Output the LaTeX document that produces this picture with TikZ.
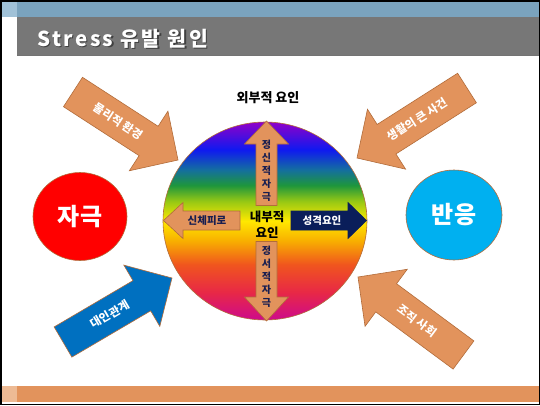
\documentclass[tikz,border=0pt]{standalone}
\usepackage{fontspec}
\setmainfont{Noto Sans CJK KR}
\usetikzlibrary{calc,shapes.geometric}
\definecolor{barblue}{RGB}{122,163,190}
\definecolor{barbluelt}{RGB}{160,193,215}
\definecolor{bargray}{RGB}{119,119,119}
\definecolor{orfill}{RGB}{226,147,92}
\definecolor{orline}{RGB}{178,108,58}
\definecolor{orlt}{RGB}{237,186,148}
\definecolor{arblue}{RGB}{0,112,192}
\definecolor{arnavy}{RGB}{10,30,90}
\definecolor{txnavy}{RGB}{25,30,80}
\definecolor{stimred}{RGB}{255,0,0}
\definecolor{respcyan}{RGB}{0,176,240}
\definecolor{rbmag}{RGB}{205,10,140}
\definecolor{rbred}{RGB}{232,40,70}
\definecolor{rbor}{RGB}{240,85,30}
\definecolor{rbory}{RGB}{248,175,0}
\definecolor{rbyel}{RGB}{255,232,0}
\definecolor{rbyg}{RGB}{150,200,20}
\definecolor{rbgreen}{RGB}{30,150,60}
\definecolor{rbteal}{RGB}{20,110,160}
\definecolor{rbblue}{RGB}{15,25,240}
\definecolor{rbviol}{RGB}{145,0,200}
\pgfdeclareverticalshading{rainbowv}{100bp}{color(0bp)=(rbmag); color(25bp)=(rbmag); color(32bp)=(rbred); color(39bp)=(rbor); color(45bp)=(rbory); color(50bp)=(rbyel); color(55bp)=(rbyg); color(59bp)=(rbgreen); color(63bp)=(rbteal); color(68bp)=(rbblue); color(75bp)=(rbviol); color(100bp)=(rbviol)}
\tikzset{
  orarrow/.style={fill=orfill, draw=orline, line width=0.6pt, line join=miter},
  bluearrow/.style={fill=arblue, draw=orline, line width=0.6pt, line join=miter},
  navyarrow/.style={fill=arnavy, draw=arnavy, line width=0.6pt},
  arlabel/.style={text=white, font=\bfseries\fontsize{11.5}{13}\selectfont, inner sep=0pt},
  inlabel/.style={text=txnavy, font=\bfseries\fontsize{10}{13}\selectfont, inner sep=0pt, align=center},
  bigball/.style={ellipse, inner sep=0pt, draw=orline, line width=0.6pt, text=white, font=\bfseries\fontsize{24}{26}\selectfont}
}
\newcommand{\blockarr}[6]{%
  \coordinate (#1t) at #2;
  \coordinate (#1p) at #3;
  \coordinate (#1h) at ($(#1p)!35pt!(#1t)$);
  \draw[#4] ($(#1t)!17.5pt!90:(#1p)$) -- ($(#1h)!17.5pt!90:(#1p)$) -- ($(#1h)!35.5pt!90:(#1p)$) -- (#1p)
    -- ($(#1h)!35.5pt!-90:(#1p)$) -- ($(#1h)!17.5pt!-90:(#1p)$) -- ($(#1t)!17.5pt!-90:(#1p)$) -- cycle;
  \path (#1t) -- (#1p) node[pos=#6, sloped, arlabel] (#1lab) {#5};
}
\begin{document}
\begin{tikzpicture}[x=1pt,y=-1pt]
\useasboundingbox (0,0) rectangle (540,405);
\fill[white] (0,0) rectangle (540,405);
% header
\fill[barblue] (2,2) rectangle (539,17);
\fill[barbluelt] (2,2) rectangle (17,17);
\fill[bargray] (17,17) rectangle (539,55);
\draw[black!55, line width=0.6pt] (17,55) -- (539,55);
\node[anchor=base west, inner sep=0pt, text=black!75, font=\bfseries\fontsize{20.5}{22}\selectfont\addfontfeatures{LetterSpace=12}] (titlesh) at (38.3,47.5) {Stress 유발 원인};
\node[anchor=base west, inner sep=0pt, text=white, font=\bfseries\fontsize{20.5}{22}\selectfont\addfontfeatures{LetterSpace=12}] (title) at (37,46.2) {Stress 유발 원인};
% footer
\fill[orfill] (2,386) rectangle (539,402);
\fill[orlt] (2,386) rectangle (17,402);
% frame
\draw[black, line width=1.5pt] (0.75,0.75) rectangle (539.25,404.25);

% outer arrows
\blockarr{pe}{(73,92)}{(178,160)}{orarrow}{물리적 환경}{0.43}
\blockarr{le}{(467,88)}{(357,158)}{orarrow}{생활의 큰 사건}{0.45}
\blockarr{ir}{(63,342)}{(172,278)}{bluearrow}{대인관계}{0.43}
\blockarr{os}{(463.5,355)}{(358,277)}{orarrow}{조직 사회}{0.44}

% side balls
\node[bigball, fill=stimred, minimum width=94pt, minimum height=88pt] (stim) at (80,216.5) {자극};
\node[bigball, fill=respcyan, minimum width=96pt, minimum height=90pt] (resp) at (454,215) {반응};

% central ball
\node[ellipse, inner sep=0pt, minimum width=204pt, minimum height=198pt, shading=rainbowv, draw=orline, line width=0.6pt] (core) at (265,221) {};
\node[font=\bfseries\fontsize{13}{15}\selectfont, inner sep=0pt] (ext) at (268,98) {외부적 요인};

% inner arrows
\draw[orarrow] (256,205.5) -- (256,144) -- (244.5,144) -- (266.5,121) -- (288.5,144) -- (277,144) -- (277,205.5) -- cycle;
\draw[orarrow] (256,241.5) -- (256,297) -- (244.5,297) -- (266.5,321) -- (288.5,297) -- (277,297) -- (277,241.5) -- cycle;
\draw[orarrow] (240,211) -- (183,211) -- (183,202.5) -- (163.5,220.5) -- (183,238.5) -- (183,230) -- (240,230) -- cycle;
\draw[navyarrow] (291,211) -- (348,211) -- (348,202.5) -- (366.5,220.5) -- (348,238.5) -- (348,230) -- (291,230) -- cycle;

\node[inlabel] (mental) at (266.5,170.5) {정\\신\\적\\자\\극};
\node[inlabel] (emot) at (266.5,277) {정\\서\\적\\자\\극};
\node[inlabel, font=\bfseries\fontsize{10.5}{12}\selectfont] (body) at (207,220.5) {신체피로};
\node[inlabel, text=white, font=\bfseries\fontsize{10.5}{12}\selectfont] (pers) at (322,221) {성격요인};
\node[inlabel, text=black, font=\bfseries\fontsize{12.5}{16}\selectfont] (internal) at (267,225) {내부적\\요인};
\end{tikzpicture}
\end{document}
